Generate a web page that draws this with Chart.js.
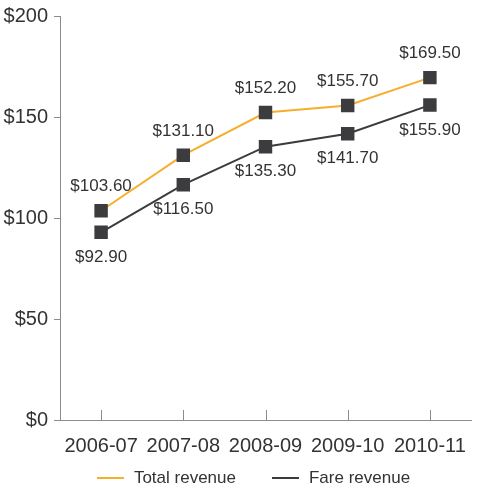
<!DOCTYPE html>
<html>
<head>
<meta charset="utf-8">
<script src="https://cdn.jsdelivr.net/npm/chart.js@4/dist/chart.umd.min.js"></script>
<style>
  html, body { margin: 0; padding: 0; background: #fff; }
  #wrap { width: 491px; height: 500px; }
</style>
</head>
<body>
<div id="wrap"><canvas id="grafico"></canvas></div>
<script>
const categories = ["2006-07", "2007-08", "2008-09", "2009-10", "2010-11"];
const totalRevenue = [103.6, 131.1, 152.2, 155.7, 169.5];
const fareRevenue = [92.9, 116.5, 135.3, 141.7, 155.9];
const yTicks = [0, 50, 100, 150, 200];

const FONT = "'Liberation Sans Narrow', 'Arial Narrow', 'Liberation Sans', sans-serif";
const TEXT = "#333333";
const DARK = "#3c3b3d";
const ORANGE = "#f6ae2d";

// value labels above / below the points
const valueLabels = {
  id: "valueLabels",
  afterDatasetsDraw(chart) {
    const ctx = chart.ctx;
    ctx.save();
    ctx.font = "17px " + FONT;
    ctx.fillStyle = TEXT;
    ctx.textAlign = "center";
    ctx.textBaseline = "middle";
    chart.data.datasets.forEach(function (ds, i) {
      const meta = chart.getDatasetMeta(i);
      const dy = i === 0 ? -24 : 25;
      meta.data.forEach(function (pt, j) {
        ctx.fillText("$" + ds.data[j].toFixed(2), pt.x, pt.y + dy);
      });
    });
    ctx.restore();
  }
};

// small tick marks on the x axis pointing up into the plot
const innerTicks = {
  id: "innerTicks",
  beforeDatasetsDraw(chart) {
    const x = chart.scales.x;
    const ctx = chart.ctx;
    ctx.save();
    ctx.strokeStyle = "#8c8c8c";
    ctx.lineWidth = 1;
    x.ticks.forEach(function (t, i) {
      const px = Math.round(x.getPixelForTick(i)) + 0.5;
      ctx.beginPath();
      ctx.moveTo(px, x.top);
      ctx.lineTo(px, x.top - 10);
      ctx.stroke();
    });
    ctx.restore();
  }
};

// legend row at the bottom: short line sample + name, wide gap between items
const bottomLegend = {
  id: "bottomLegend",
  afterDraw(chart) {
    const ctx = chart.ctx;
    const sample = 27, gap = 10, itemGap = 36;
    ctx.save();
    ctx.font = "17px " + FONT;
    const widths = chart.data.datasets.map(function (ds) {
      return sample + gap + ctx.measureText(ds.label).width;
    });
    const total = widths.reduce(function (a, b) { return a + b; }, 0) + itemGap * (widths.length - 1);
    let x = chart.width / 2 + 8 - total / 2;
    const y = chart.height - 22;
    ctx.textBaseline = "middle";
    ctx.textAlign = "left";
    chart.data.datasets.forEach(function (ds, i) {
      ctx.fillStyle = ds.borderColor;
      ctx.fillRect(x, y - 1, sample, 2);
      ctx.fillStyle = TEXT;
      ctx.fillText(ds.label, x + sample + gap, y);
      x += widths[i] + itemGap;
    });
    ctx.restore();
  }
};

document.addEventListener("DOMContentLoaded", function () {
  const ctx = document.getElementById("grafico").getContext("2d");

  new Chart(ctx, {
    type: "line",
    data: {
      labels: categories,
      datasets: [
        {
          label: "Total revenue",
          data: totalRevenue,
          borderColor: ORANGE,
          backgroundColor: ORANGE,
          borderWidth: 2,
          pointStyle: "rect",
          pointRadius: 9.5,
          pointHoverRadius: 9.5,
          pointBackgroundColor: DARK,
          pointBorderColor: DARK,
          pointBorderWidth: 0,
          tension: 0
        },
        {
          label: "Fare revenue",
          data: fareRevenue,
          borderColor: DARK,
          backgroundColor: DARK,
          borderWidth: 2,
          pointStyle: "rect",
          pointRadius: 9.5,
          pointHoverRadius: 9.5,
          pointBackgroundColor: DARK,
          pointBorderColor: DARK,
          pointBorderWidth: 0,
          tension: 0
        }
      ]
    },
    options: {
      responsive: true,
      maintainAspectRatio: false,
      animation: false,
      layout: { padding: { top: 4, right: 20, left: 0, bottom: 28 } },
      plugins: {
        tooltip: { enabled: false },
        legend: { display: false }
      },
      scales: {
        x: {
          offset: true,
          grid: { display: false, drawTicks: false },
          border: { display: true, color: "#8c8c8c", width: 1 },
          ticks: {
            font: { family: FONT, size: 20 },
            color: TEXT,
            padding: 14,
            maxRotation: 0
          }
        },
        y: {
          min: 0,
          max: 200,
          afterBuildTicks(scale) {
            scale.ticks = yTicks.map(function (v) { return { value: v }; });
          },
          afterFit(scale) { scale.width = 60; },
          grid: {
            drawOnChartArea: false,
            drawTicks: true,
            tickLength: 6,
            color: "#8c8c8c"
          },
          border: { display: true, color: "#8c8c8c", width: 1 },
          ticks: {
            font: { family: FONT, size: 20, lineHeight: 1 },
            color: TEXT,
            padding: 6,
            callback: function (v) { return "$" + v; }
          }
        }
      }
    },
    plugins: [valueLabels, innerTicks, bottomLegend]
  });
});
</script>
</body>
</html>
